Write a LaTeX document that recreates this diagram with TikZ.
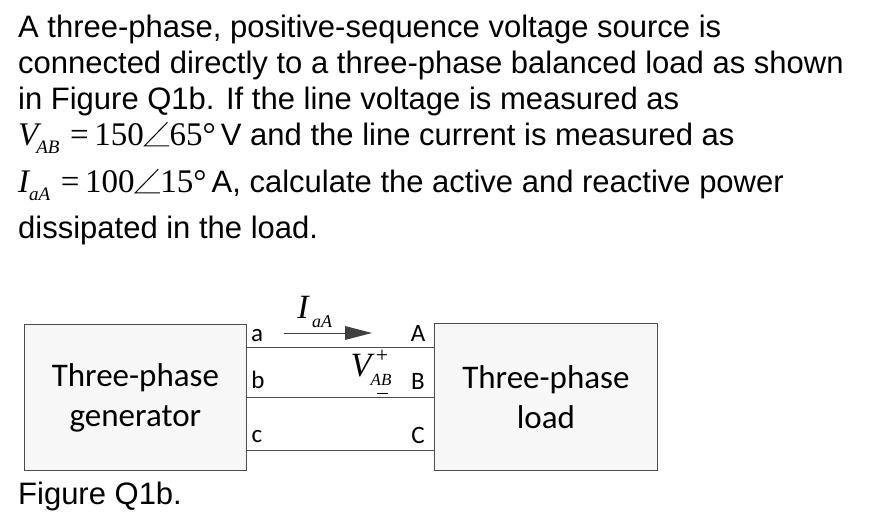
\documentclass[tikz,border=0pt]{standalone}
\usepackage{fontspec}
\setmainfont{Liberation Sans}
\newfontfamily\tms{Liberation Serif}
\newfontfamily\carl{Carlito}
\newcommand{\ang}{\raisebox{0pt}{\tikz[baseline=0pt]\draw[line width=1pt] (0.75em,0.72em)--(0.05em,0)--(0.8em,0);}}
\begin{document}
\begin{tikzpicture}[x=1pt,y=-1pt,
  txt/.style={anchor=base west,inner sep=0pt,font=\fontsize{31}{34}\selectfont},
  lbl/.style={anchor=base,inner sep=0pt,font=\carl\fontsize{25}{26}\selectfont},
  box/.style={draw=black!70,fill=black!3,line width=0.8pt},
  wire/.style={draw=black!70,line width=0.8pt}]
\useasboundingbox (0,0) rectangle (869,529);
\node[txt] (l1) at (18,38) {A three-phase, positive-sequence voltage source is};
\node[txt] (l2) at (18,74) {connected directly to a three-phase balanced load as shown};
\node[txt] (l3) at (18,110) {in Figure Q1b. If the line voltage is measured as};
\node[txt] (l4) at (18,146) {{\tms\itshape\fontsize{33}{34}\selectfont V}\kern-2pt\raisebox{-8pt}{\tms\itshape\fontsize{19}{19}\selectfont AB}\,{\tms\fontsize{33}{34}\selectfont\,=\,150\ang65°}\,V and the line current is measured as};
\node[txt] (l5) at (18,193) {{\tms\itshape\fontsize{33}{34}\selectfont I}\raisebox{-8pt}{\tms\itshape\fontsize{19}{19}\selectfont aA}\,{\tms\fontsize{33}{34}\selectfont\,=\,100\ang15°}\,A, calculate the active and reactive power};
\node[txt] (l6) at (18,239) {dissipated in the load.};
\node[txt] (fig) at (18,504) {Figure Q1b.};
\node[box,minimum width=222pt,minimum height=146pt,anchor=north west,align=center,
  font=\carl\fontsize{33}{40}\selectfont] (gen) at (24,324) {Three-phase\\generator};
\node[box,minimum width=223pt,minimum height=147pt,anchor=north west,align=center,
  font=\carl\fontsize{33}{40}\selectfont] (load) at (434,323) {Three-phase\\load};
\coordinate (a1) at (246,347); \coordinate (a2) at (434,347);
\coordinate (b1) at (246,397); \coordinate (b2) at (434,397);
\coordinate (c1) at (246,450); \coordinate (c2) at (434,450);
\draw[wire] (a1) -- (a2); \draw[wire] (b1) -- (b2); \draw[wire] (c1) -- (c2);
\node[lbl] (la) at (257,341) {a};
\node[lbl] (lb) at (258,388) {b};
\node[lbl] (lc) at (257,442) {c};
\node[lbl] (lA) at (418,341) {A};
\node[lbl] (lB) at (418,389) {B};
\node[lbl] (lC) at (418,443) {C};
\coordinate (i1) at (284,333); \coordinate (i2) at (370,333);
\fill[black!75] (345,326) -- (372,333) -- (345,340) -- cycle;
\draw[black!75,line width=0.9pt] (i1) -- (350,333);
\node[anchor=base,inner sep=0pt,font=\tms\itshape\fontsize{34}{36}\selectfont] (I) at (303,318) {I};
\node[anchor=base,inner sep=0pt,font=\tms\itshape\fontsize{18}{18}\selectfont] (Isub) at (322,327) {aA};
\node[anchor=base,inner sep=0pt,font=\tms\itshape\fontsize{34}{36}\selectfont] (V) at (361,376) {V};
\node[anchor=base,inner sep=0pt,font=\tms\itshape\fontsize{17}{17}\selectfont] (Vsub) at (381,385) {AB};
\node[anchor=base,inner sep=0pt,font=\tms\fontsize{22}{22}\selectfont] (plus) at (382,362) {+};
\draw[black,line width=0.9pt] (377,393) -- (388,393);
\end{tikzpicture}
\end{document}
